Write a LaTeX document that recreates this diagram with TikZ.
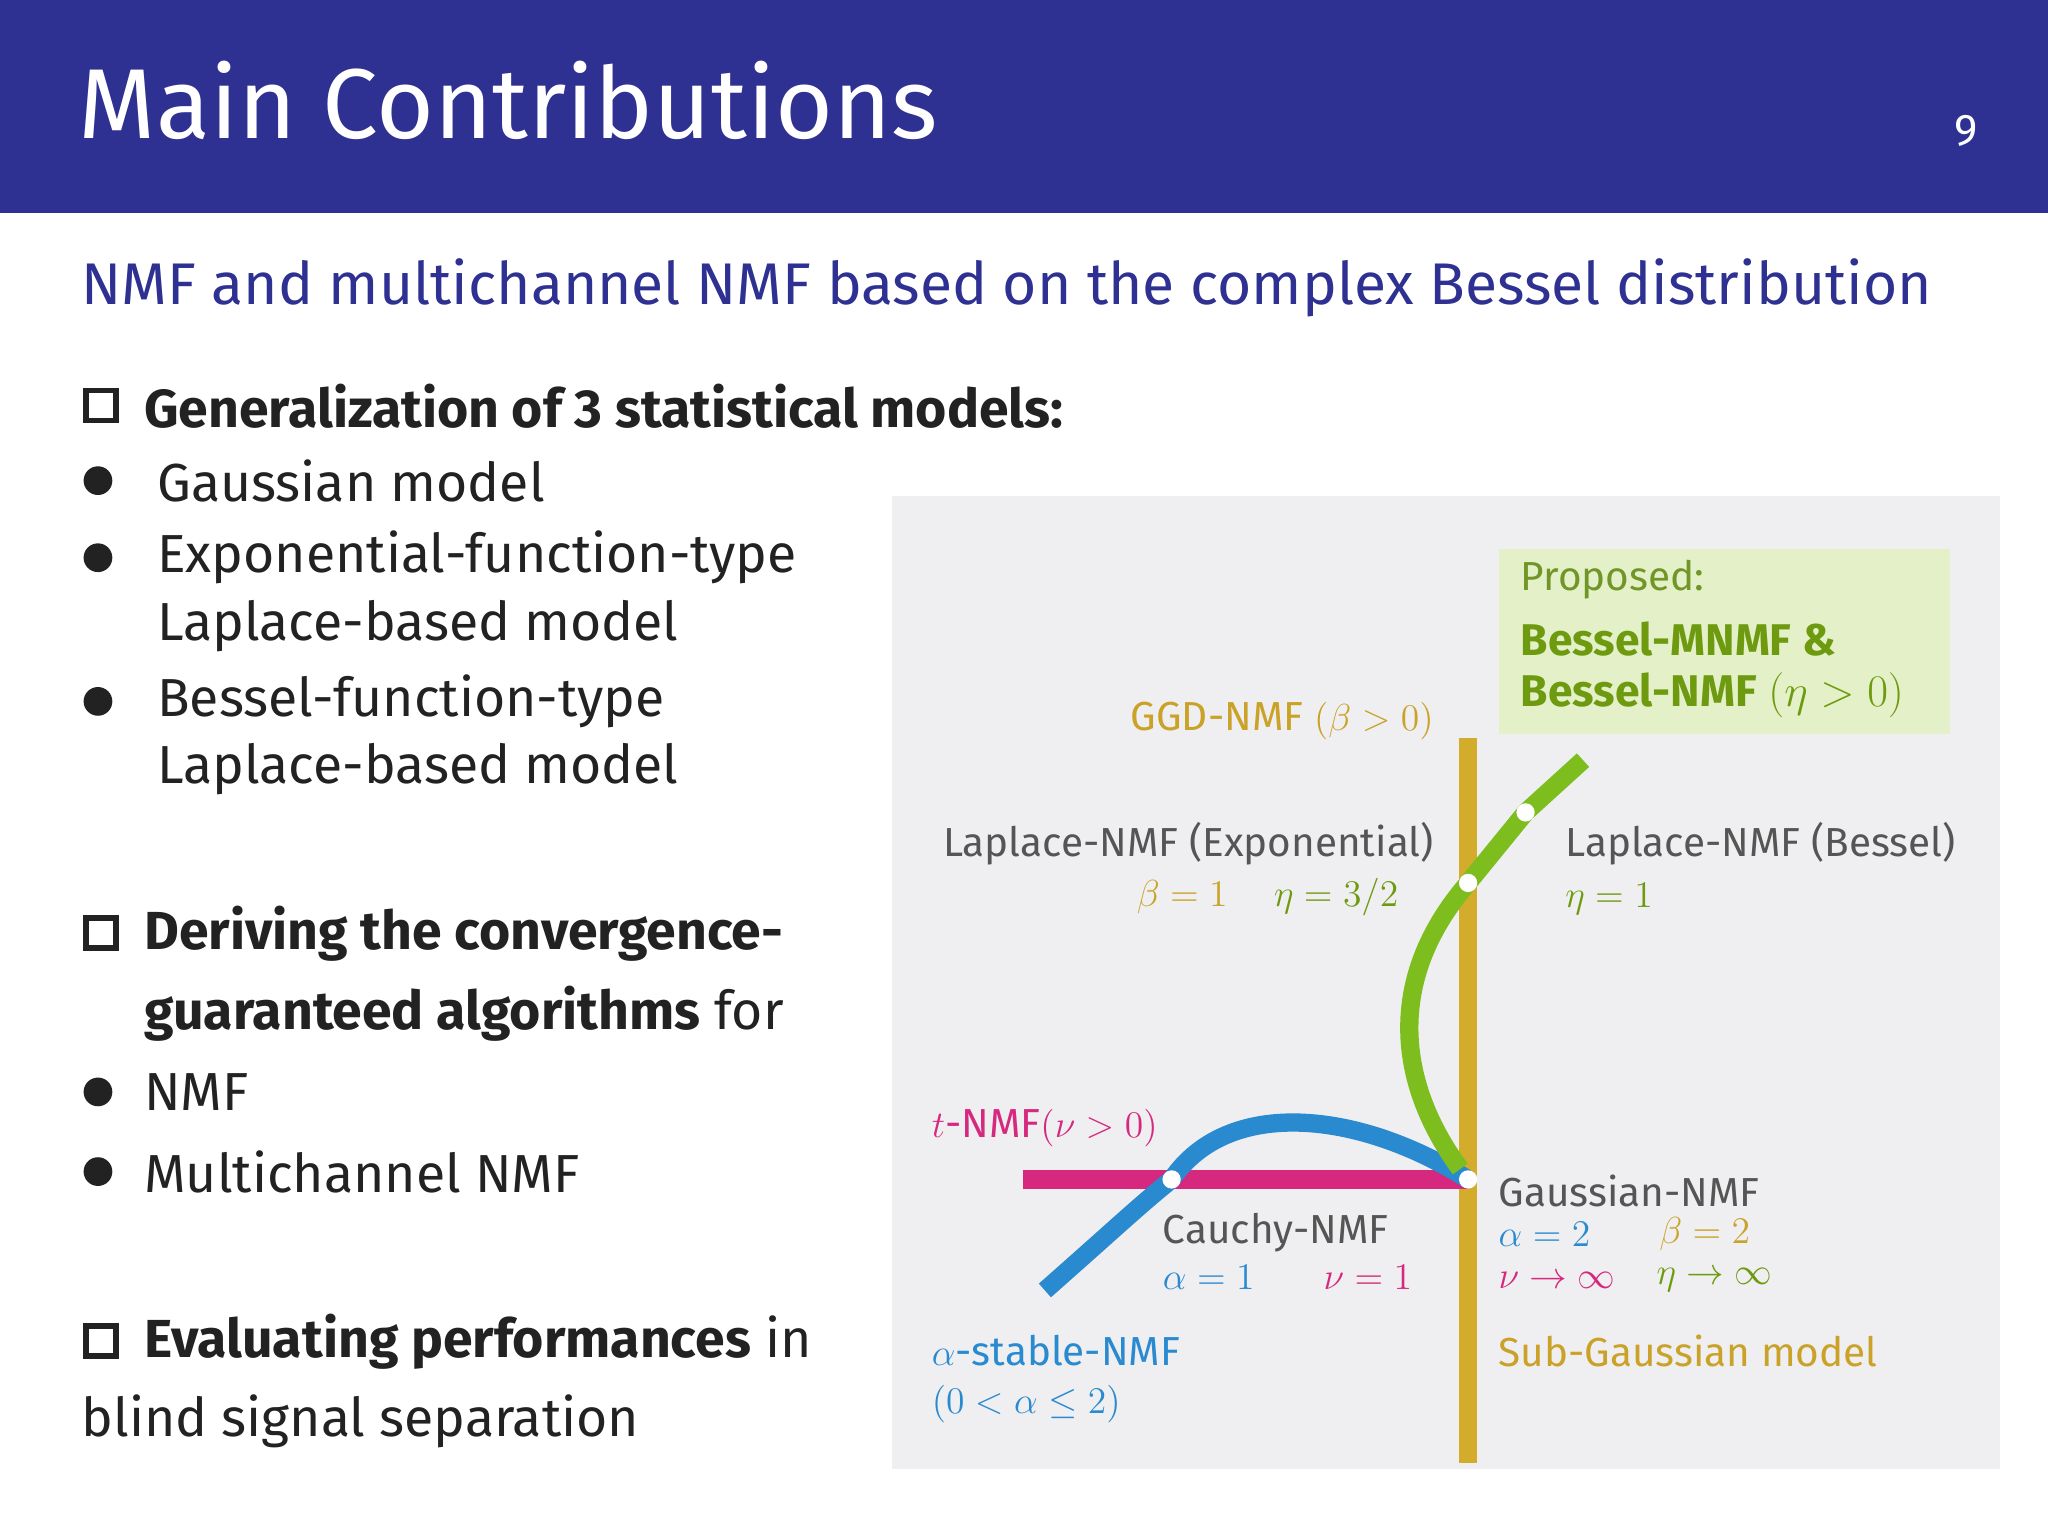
\documentclass[tikz,border=0pt]{standalone}
\usepackage{fontspec}
\setmainfont{Fira Sans}
\definecolor{hdr}{HTML}{2E3192}
\definecolor{gry}{HTML}{555555}
\definecolor{bgg}{HTML}{EFEFF1}
\definecolor{pgreen}{HTML}{E4F0C8}
\definecolor{gold}{HTML}{D2AC2A}
\definecolor{golt}{HTML}{C9A227}
\definecolor{grn}{HTML}{7DBE1E}
\definecolor{grnt}{HTML}{6E9A10}
\definecolor{mag}{HTML}{D6287E}
\definecolor{blu}{HTML}{2A8AD0}
\definecolor{txt}{HTML}{222222}
\tikzset{
 body/.style={anchor=west,text=txt,font=\fontsize{20.5}{25}\selectfont,inner sep=0},
 bodyb/.style={body,font=\fontsize{20.5}{25}\selectfont\bfseries},
 lab/.style={anchor=west,inner sep=0,font=\fontsize{15.5}{18}\selectfont},
 chk/.style={draw=txt,line width=2.2pt},
 dot/.style={circle,fill=txt,minimum size=11pt,inner sep=0},
 wdot/.style={circle,fill=white,minimum size=7pt,inner sep=0},
}
\begin{document}
\begin{tikzpicture}[x=0.5pt,y=-0.5pt]
\useasboundingbox (0,0) rectangle (1568,1176);
\fill[white] (0,0) rectangle (1568,1176);
\fill[hdr] (0,0) rectangle (1568,163);
\node[anchor=west,text=white,inner sep=0,font=\fontsize{38}{44}\selectfont] (title) at (60,77) {Main Contributions};
\node[text=white,inner sep=0,font=\fontsize{17}{20}\selectfont] (pg) at (1505,100) {9};
\node[anchor=west,text=hdr,inner sep=0,font=\fontsize{22.5}{28}\selectfont\mdseries] (sub) at (62,220) {NMF and multichannel NMF based on the complex Bessel distribution};
% section 1
\draw[chk] (66,299) rectangle (89,322);
\node[bodyb] (s1) at (110,311) {Generalization of 3 statistical models:};
\node[dot] (b1) at (75,368) {}; \node[body] (t1) at (120,368) {Gaussian model};
\node[dot] (b2) at (75,427) {}; \node[body] (t2) at (120,427) {Exponential-function-type};
\node[body] (t2b) at (120,479) {Laplace-based model};
\node[dot] (b3) at (75,537) {}; \node[body] (t3) at (120,537) {Bessel-function-type};
\node[body] (t3b) at (120,589) {Laplace-based model};
% section 2
\draw[chk] (66,703) rectangle (89,726);
\node[bodyb] (s2) at (110,715) {Deriving the convergence-};
\node[body] (s2b) at (110,776) {\bfseries guaranteed algorithms\mdseries{} for};
\node[dot] (b4) at (75,836) {}; \node[body] (t4) at (110,836) {NMF};
\node[dot] (b5) at (75,897) {}; \node[body] (t5) at (110,897) {Multichannel NMF};
% section 3
\draw[chk] (66,1015) rectangle (89,1038);
\node[body] (s3) at (110,1027) {\bfseries Evaluating performances\mdseries{} in};
\node[body] (s3b) at (62,1088) {blind signal separation};
% diagram
\fill[bgg] (683,380) rectangle (1531,1125);
\fill[pgreen] (1148,420) rectangle (1493,562);
\coordinate (yt) at (1124,565); \coordinate (yb) at (1124,1120);
\draw[gold,line width=7pt] (yt) -- (yb);
\coordinate (ml) at (783,903); \coordinate (gn) at (1124,903);
\coordinate (cn) at (897,903); \coordinate (ln) at (1124,676); \coordinate (bn) at (1168,622);
\draw[mag,line width=7pt] (ml) -- (gn);
\draw[blu,line width=7pt] (800,988) .. controls (860,935) and (870,925) .. (cn) .. controls (940,840) and (1040,850) .. (gn);
\draw[grn,line width=7pt] (1212,582) -- (bn) -- (ln) .. controls (1060,750) and (1070,830) .. (1118,895);
\foreach \p in {cn,gn,ln,bn} \node[wdot] at (\p) {};
\node[lab,text=grnt!80!gray] (prop) at (1164,444) {Proposed:};
\node[lab,text=grnt,font=\fontsize{17}{20}\selectfont\bfseries] (bm) at (1164,489) {Bessel-MNMF \&};
\node[lab,text=grnt,font=\fontsize{17}{20}\selectfont] (bn2) at (1164,532) {\textbf{Bessel-NMF} $(\eta>0)$};
\node[lab,text=golt,anchor=east] (ggd) at (1098,552) {GGD-NMF $(\beta>0)$};
\node[lab,text=gry,anchor=east] (le) at (1098,646) {Laplace-NMF (Exponential)};
\node[lab,text=golt] (b1l) at (870,687) {$\beta=1$};
\node[lab,text=grnt] (e32) at (975,687) {$\eta=3/2$};
\node[lab,text=gry] (lb) at (1198,646) {Laplace-NMF (Bessel)};
\node[lab,text=grnt] (e1) at (1198,688) {$\eta=1$};
\node[lab,text=mag] (tn) at (713,864) {$t$-NMF$(\nu>0)$};
\node[lab,text=gry] (cy) at (890,944) {Cauchy-NMF};
\node[lab,text=blu] (a1) at (890,978) {$\alpha=1$};
\node[lab,text=mag] (n1) at (1013,978) {$\nu=1$};
\node[lab,text=gry] (gs) at (1147,912) {Gaussian-NMF};
\node[lab,text=blu] (a2) at (1147,945) {$\alpha=2$};
\node[lab,text=golt] (be2) at (1270,945) {$\beta=2$};
\node[lab,text=mag] (ni) at (1147,980) {$\nu\to\infty$};
\node[lab,text=grnt] (ei) at (1268,980) {$\eta\to\infty$};
\node[lab,text=golt] (sg) at (1147,1034) {Sub-Gaussian model};
\node[lab,text=blu] (as) at (713,1034) {$\alpha$-stable-NMF};
\node[lab,text=blu] (ar) at (713,1075) {$(0<\alpha\le2)$};
\end{tikzpicture}
\end{document}
